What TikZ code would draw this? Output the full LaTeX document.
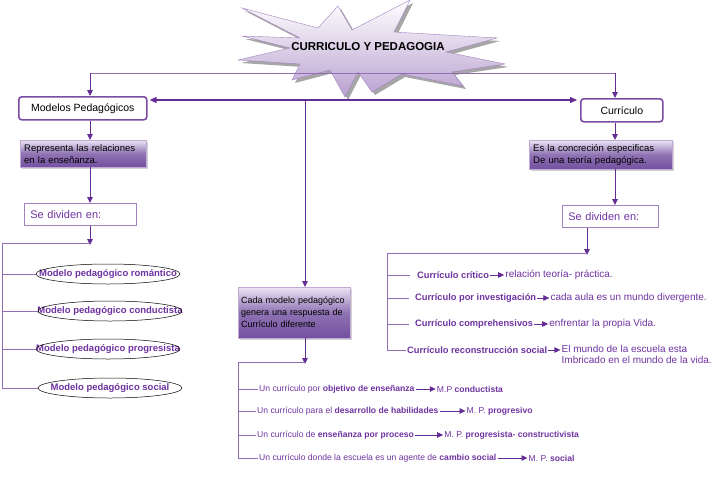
\documentclass[tikz,border=0pt]{standalone}
\usepackage{fontspec}
\setmainfont{Liberation Sans}
\usetikzlibrary{arrows.meta,shapes.geometric,shadows}
\definecolor{pur}{RGB}{100,45,150}
\definecolor{ptext}{RGB}{110,50,160}
\definecolor{lav}{RGB}{235,228,245}
\definecolor{dpur}{RGB}{115,80,160}
\tikzset{
 x=1pt,y=-1pt,
 every node/.style={font=\fontsize{10}{11}\selectfont, inner sep=1pt},
 arr/.style={-{Triangle[length=6pt,width=5.5pt]}, pur, line width=0.9pt},
 ln/.style={pur!70, line width=0.8pt},
 titlebox/.style={draw=pur!85, line width=1.6pt, rounded corners=3pt, fill=white, minimum height=23pt, font=\fontsize{10.5}{12}\selectfont},
 gradbox/.style={top color=lav, bottom color=dpur, middle color=dpur!80, draw=pur!40, drop shadow={opacity=0.35,shadow xshift=1.5pt,shadow yshift=-1.5pt}, align=left, anchor=north west, text=black, inner sep=4pt, font=\fontsize{9.5}{12}\selectfont},
 divbox/.style={draw=pur!60, line width=0.6pt, text=ptext, font=\fontsize{11}{13}\selectfont, anchor=north west, minimum height=22pt, inner sep=5pt},
 ell/.style={font=\bfseries\fontsize{9.5}{11}\selectfont, text=ptext},
 bt/.style={anchor=west, font=\bfseries\fontsize{9.3}{11}\selectfont, text=ptext},
 nt/.style={anchor=west, text=ptext},
 bn/.style={anchor=west, text=ptext, font=\fontsize{8.6}{10}\selectfont},
}
\begin{document}
\begin{tikzpicture}
\useasboundingbox (0,0) rectangle (720,477);
% starburst
\def\starpath{(242,8) (318,28) (338,6) (352,30) (410,0) (394,32) (497,38) (446,52) (505,64) (452,72) (463,86) (402,74) (372,92) (358,72) (345,97) (330,70) (292,80) (300,64) (238,60) (290,48) (242,36) (300,38)}
\fill[gray!70] [xshift=3pt,yshift=-3pt] plot coordinates {\starpath} -- cycle;
\shade[top color=white, bottom color=pur!45, draw=pur!60] plot coordinates {\starpath} -- cycle;
\node[font=\bfseries\fontsize{11.5}{13}\selectfont] (title) at (368,47) {CURRICULO Y PEDAGOGIA};
\coordinate (tl) at (90,73);
\coordinate (tr) at (615,73);
% top boxes
\node[titlebox, anchor=north west, minimum width=128pt] (mp) at (18,96) {Modelos Pedagógicos};
\node[titlebox, anchor=north west, minimum width=82pt] (cu) at (580,98) {Currículo};
\draw[ln] (tl) -- (tr);
\draw[arr] (tl) -- (mp.north -| tl);
\draw[arr] (tr) -- (cu.north -| tr);
\coordinate (mid) at (305,100);
\draw[pur, line width=1.4pt, {Triangle[length=7pt,width=6pt]}-{Triangle[length=7pt,width=6pt]}] ([xshift=2pt]mp.east |- mid) -- ([xshift=-3pt]cu.west |- mid);
% left column
\node[gradbox, text width=118pt] (rep) at (20,140) {Representa las relaciones\\ en la enseñanza.};
\draw[arr] (mp.south -| 90,0) -- (rep.north -| 90,0);
\node[divbox, minimum width=112pt, text width=100pt] (sdl) at (24,203) {Se dividen en:};
\draw[arr] (rep.south -| 90,0) -- (sdl.north -| 90,0);
\coordinate (jl) at (90,245);
\draw[arr] (sdl.south -| 90,0) -- (jl);
\draw[ln] (90,243) -- (2,243) -- (2,388);
\node[ell] (e1) at (108,274) {Modelo pedagógico romántico};
\node[ell] (e2) at (110,311) {Modelo pedagógico conductista};
\node[ell] (e3) at (108,349) {Modelo pedagógico progresista};
\node[ell] (e4) at (110,388) {Modelo pedagógico social};
\foreach \e in {e1,e2,e3,e4} {\draw[black, line width=0.5pt] (\e.center) ellipse (72pt and 10pt); \draw[ln] (2,0 |- \e.center) -- ([xshift=-72pt]\e.center);}
% middle
\node[gradbox, text width=106pt, inner sep=3pt, minimum height=51pt, font=\fontsize{9}{12}\selectfont] (cada) at (238,287) {Cada modelo pedagógico\\ genera una respuesta de\\ Currículo diferente};
\draw[arr] (mid) -- (cada.north -| mid);
\coordinate (jm) at (305,364);
\draw[arr] (cada.south -| jm) -- (jm);
\draw[ln] (305,362) -- (238,362) -- (238,458);
\node[bn] (m1a) at (258,389) {Un currículo por \textbf{objetivo de enseñanza}};
\node[bn] (m1b) at ([xshift=20pt]m1a.east) {M.P \textbf{conductista}};
\node[bn] (m2a) at (256,411) {Un currículo para el \textbf{desarrollo de habilidades}};
\node[bn] (m2b) at ([xshift=26pt]m2a.east) {M. P. \textbf{progresivo}};
\node[bn] (m3a) at (256,435) {Un currículo de \textbf{enseñanza por proceso}};
\node[bn] (m3b) at ([xshift=28pt]m3a.east) {M. P. \textbf{progresista- constructivista}};
\node[bn] (m4a) at (258,458) {Un currículo donde la escuela es un agente de \textbf{cambio social}};
\node[bn] (m4b) at ([xshift=30pt]m4a.east) {M. P. \textbf{social}};
\foreach \i in {1,2,3,4} {\draw[ln] (238,0 |- m\i a.west) -- (m\i a.west); \draw[arr,line width=0.7pt] (m\i a.east) -- (m\i b.west);}
% right column
\node[gradbox, text width=135pt] (es) at (529,140) {Es la concreción especificas\\ De una teoría pedagógica.};
\draw[arr] (cu.south -| tr) -- (es.north -| tr);
\node[divbox, minimum width=96pt, text width=84pt] (sdr) at (562,205) {Se dividen en:};
\draw[arr] (es.south -| tr) -- (sdr.north -| tr);
\coordinate (jr) at (587,255);
\draw[arr] (sdr.south -| jr) -- (jr);
\draw[ln] (587,253) -- (387,253) -- (387,350);
\node[bt] (r1a) at (416,275) {Currículo crítico};
\node[nt] (r1b) at ([xshift=14pt]r1a.east) {relación teoría- práctica.};
\node[bt] (r2a) at (414,298) {Currículo por investigación};
\node[nt] (r2b) at ([xshift=12pt]r2a.east) {cada aula es un  mundo  divergente.};
\node[bt] (r3a) at (414,324) {Currículo comprehensivos};
\node[nt] (r3b) at ([xshift=14pt]r3a.east) {enfrentar la propia Vida.};
\node[bt] (r4a) at (406,350) {Currículo reconstrucción social};
\node[nt, anchor=north west, align=left] (r4b) at ([xshift=12pt,yshift=6pt]r4a.east) {El mundo de la escuela esta\\ Imbricado en el mundo de la vida.};
\draw[ln] (387,275) -- (410,275);
\draw[ln] (387,298) -- (409,298);
\draw[ln] (387,324) -- (409,324);
\draw[ln] (387,350) -- (r4a.west);
\foreach \i in {1,2,3} \draw[arr,line width=0.7pt] (r\i a.east) -- (r\i b.west);
\draw[arr,line width=0.7pt] (r4a.east) -- (r4a.east -| r4b.west);
\end{tikzpicture}
\end{document}
